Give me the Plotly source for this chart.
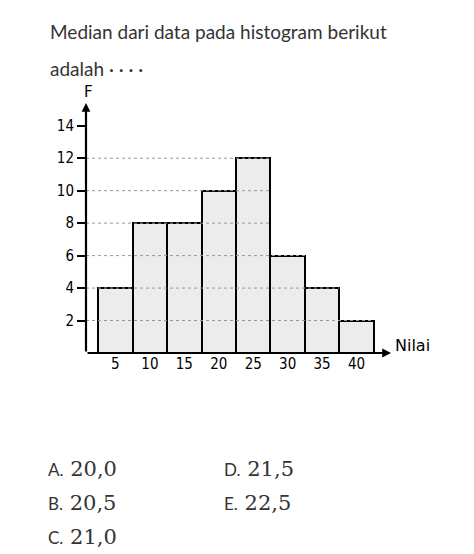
import plotly.graph_objects as go

centers = [5, 10, 15, 20, 25, 30, 35, 40]
freq = [4, 8, 8, 10, 12, 6, 4, 2]
y_ticks = [2, 4, 6, 8, 10, 12, 14]
options_left = [("A.", "20,0"), ("B.", "20,5"), ("C.", "21,0")]
options_right = [("D.", "21,5"), ("E.", "22,5")]

fig = go.Figure()
fig.add_trace(go.Bar(x=centers, y=freq, width=5, marker=dict(color="#ececec", line=dict(color="black", width=2)), showlegend=False))

for v in y_ticks:
    idx = [i for i, f in enumerate(freq) if f >= v]
    if not idx:
        continue
    xe = centers[idx[-1]] + 2.5
    fig.add_trace(go.Scatter(x=[0.73, xe], y=[v, v], mode="lines", line=dict(color="#999", width=1, dash="dot"), showlegend=False, hoverinfo="skip"))

fig.update_xaxes(range=[0.73, 45], tickvals=centers, ticktext=[str(c) for c in centers], showgrid=False, zeroline=False,
                 showline=False, ticks="", tickfont=dict(family="DejaVu Sans Condensed", size=15, color="black"))
fig.update_yaxes(range=[0, 15.4], tickvals=y_ticks, showgrid=False, zeroline=False, showline=False,
                 ticks="outside", ticklen=8, tickwidth=2, tickcolor="black",
                 tickfont=dict(family="DejaVu Sans Condensed", size=15, color="black"))

fig.add_annotation(x=45, y=0, ax=0.73, ay=0, xref="x", yref="y", axref="x", ayref="y", showarrow=True,
                   arrowhead=2, arrowsize=0.8, arrowwidth=2.2, arrowcolor="black", text="")
fig.add_annotation(x=0.73, y=15.4, ax=0.73, ay=0, xref="x", yref="y", axref="x", ayref="y", showarrow=True,
                   arrowhead=2, arrowsize=0.8, arrowwidth=2.2, arrowcolor="black", text="")
fig.add_annotation(x=45, y=0, xref="x", yref="y", text="Nilai", showarrow=False, xanchor="left", yanchor="bottom",
                   font=dict(family="DejaVu Sans", size=16, color="black"), xshift=2, yshift=-4)
fig.add_annotation(x=0.73, y=15.4, xref="x", yref="y", text="F", showarrow=False, yanchor="bottom",
                   font=dict(family="DejaVu Sans", size=15, color="black"), xshift=2)

def px(xp):
    return (xp - 78) / 305
def py(yp):
    return (345 - yp) / 250

title_font = dict(family="Lato", size=19, color="#333")
fig.add_annotation(x=px(40), y=py(24), xref="paper", yref="paper", text="Median dari data pada histogram berikut",
                   showarrow=False, xanchor="left", yanchor="middle", font=title_font)
fig.add_annotation(x=px(40), y=py(60), xref="paper", yref="paper", text="adalah · · · ·",
                   showarrow=False, xanchor="left", yanchor="middle", font=title_font)

def opt(letter, val, xp, yp):
    fig.add_annotation(x=px(xp), y=py(yp), xref="paper", yref="paper",
                       text=f"<span style='font-family:Lato;font-size:17px'>{letter}</span> {val}",
                       showarrow=False, xanchor="left", yanchor="middle",
                       font=dict(family="DejaVu Serif", size=21, color="#333"))
for i, (l, v) in enumerate(options_left):
    opt(l, v, 38, 461 + i * 34)
for i, (l, v) in enumerate(options_right):
    opt(l, v, 214, 461 + i * 34)

fig.update_layout(width=474, height=554, margin=dict(l=78, r=91, t=95, b=209), plot_bgcolor="white",
                  paper_bgcolor="white", bargap=0)
fig.write_html("out.html")
